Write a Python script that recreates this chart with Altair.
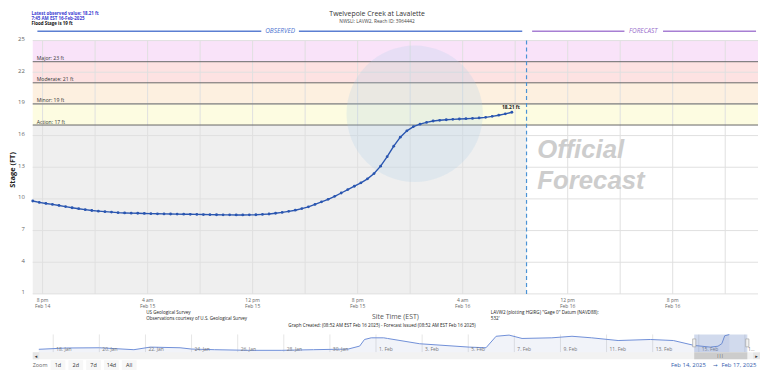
import altair as alt
import pandas as pd

# ---------------- values ----------------
obs_start = "2025-02-14 19:15"
obs_step = "30min"
obs_stage = [9.80, 9.67, 9.57, 9.48, 9.38, 9.27, 9.16, 9.07, 8.98, 8.90,
             8.84, 8.79, 8.75, 8.70, 8.67, 8.65, 8.64, 8.62, 8.60, 8.59,
             8.58, 8.57, 8.56, 8.55, 8.54, 8.53, 8.52, 8.51, 8.50, 8.49,
             8.49, 8.48, 8.48, 8.49, 8.50, 8.53, 8.57, 8.64, 8.72, 8.82,
             8.93, 9.08, 9.25, 9.48, 9.72, 9.96, 10.24, 10.56, 10.88, 11.20,
             11.52, 11.90, 12.40, 13.10, 14.00, 15.00, 15.85, 16.45, 16.85, 17.08,
             17.25, 17.38, 17.45, 17.50, 17.54, 17.57, 17.60, 17.63, 17.67, 17.73,
             17.82, 17.93, 18.06, 18.21]

view_start = "2025-02-14 19:15"
view_end = "2025-02-17 02:30"
forecast_issued = "2025-02-16 08:52"

cat_names = ["Action", "Minor", "Moderate", "Major"]
cat_stage = [17, 19, 21, 23]
cat_top = [19, 21, 23, 25]
cat_colors = ["#fdfce1", "#fdf0e0", "#fde2e2", "#f9e3f9"]

y_ticks = [1, 4, 7, 10, 13, 16, 19, 22, 25]
grid_start = "2025-02-14 20:00"
grid_end = "2025-02-17 00:00"
x_label_times = ["2025-02-14 20:00", "2025-02-15 04:00", "2025-02-15 12:00",
                 "2025-02-15 20:00", "2025-02-16 04:00", "2025-02-16 12:00",
                 "2025-02-16 20:00"]
x_labels_time = ["8 pm", "4 am", "12 pm", "8 pm", "4 am", "12 pm", "8 pm"]
x_labels_day = ["Feb 14", "Feb 15", "Feb 15", "Feb 15", "Feb 16", "Feb 16", "Feb 16"]

nav_times = ["2025-01-17 09:00", "2025-01-18 14:00", "2025-01-20 00:00", "2025-01-21 12:00",
             "2025-01-22 05:00", "2025-01-23 12:00", "2025-01-24 00:00", "2025-01-25 00:00",
             "2025-01-26 12:00", "2025-01-27 22:00", "2025-01-29 07:00", "2025-01-30 19:00",
             "2025-01-31 07:00", "2025-01-31 12:00", "2025-01-31 19:00", "2025-02-01 08:00",
             "2025-02-01 12:00", "2025-02-02 21:30", "2025-02-05 01:00", "2025-02-05 18:30",
             "2025-02-06 05:00", "2025-02-06 18:30", "2025-02-07 08:00", "2025-02-08 15:00",
             "2025-02-09 12:00", "2025-02-10 08:30", "2025-02-11 12:00", "2025-02-12 21:30",
             "2025-02-13 21:30", "2025-02-14 19:15", "2025-02-15 12:00", "2025-02-15 20:00",
             "2025-02-16 00:00", "2025-02-16 03:00", "2025-02-16 07:45"]
nav_stage = [6.8, 7.8, 8.0, 6.5, 8.5, 8.0, 7.0, 6.5, 6.0, 6.0, 6.5, 7.0,
             9.3, 14.4, 15.7, 15.7, 15.2, 11.1, 8.5, 8.0, 16.9, 17.8, 15.2, 15.7,
             16.9, 15.7, 13.6, 14.4, 13.6, 9.8, 8.5, 9.2, 11.2, 17.3, 18.21]
nav_start = "2025-01-17 02:40"
nav_end = "2025-02-17 08:30"
nav_label_dates = ["2025-01-18", "2025-01-20", "2025-01-22", "2025-01-24", "2025-01-26",
                   "2025-01-28", "2025-01-30", "2025-02-01", "2025-02-03", "2025-02-05",
                   "2025-02-07", "2025-02-09", "2025-02-11", "2025-02-13", "2025-02-15",
                   "2025-02-17"]
nav_labels = ["18. Jan", "20. Jan", "22. Jan", "24. Jan", "26. Jan", "28. Jan", "30. Jan",
              "1. Feb", "3. Feb", "5. Feb", "7. Feb", "9. Feb", "11. Feb", "13. Feb",
              "15. Feb", "17. Feb"]
zoom_buttons = ["1d", "2d", "7d", "14d", "All"]
range_labels = ["Feb 14, 2025", "Feb 17, 2025"]

title_text = "Twelvepole Creek at Lavalette"
subtitle_text = "NWSLI: LAVW2, Reach ID: 3964442"
info_lines = ["Latest observed value: 18.21 ft", "7:45 AM EST 16-Feb-2025", "Flood Stage is 19 ft"]
credit_lines = ["US Geological Survey", "Observations courtesy of U.S. Geological Survey"]
datum_lines = ["LAVW2 (plotting HGIRG) \"Gage 0\" Datum (NAVD88):", "532'"]
created_text = ("Graph Created: (08:52 AM EST Feb 16 2025) - "
                "Forecast Issued (08:52 AM EST Feb 16 2025)")
official_text = "Official\nForecast"

FONT = "Open Sans"


def iso(t):
    return pd.Timestamp(t).strftime("%Y-%m-%dT%H:%M:%S")


def dt(t):
    t = pd.Timestamp(t)
    return alt.DateTime(year=t.year, month=t.month, date=t.day, hours=t.hour, minutes=t.minute)


def label(text, x, y, **kw):
    return alt.Chart(alt.Data(values=[{"t": text}])).mark_text(**kw).encode(
        x=alt.value(x), y=alt.value(y), text="t:N")


def hline(x0, x1, y, **kw):
    return alt.Chart(alt.Data(values=[{}])).mark_rule(**kw).encode(
        x=alt.value(x0), x2=alt.value(x1), y=alt.value(y))


def box(x0, x1, y0, y1, **kw):
    return alt.Chart(alt.Data(values=[{}])).mark_rect(**kw).encode(
        x=alt.value(x0), x2=alt.value(x1), y=alt.value(y0), y2=alt.value(y1))


# ---------------- main panel ----------------
W, H = 733, 256
xs = alt.Scale(domain=[dt(view_start), dt(view_end)])
ys = alt.Scale(domain=[y_ticks[0], y_ticks[-1]], nice=False, zero=False)


def X(f):
    return alt.X(f, scale=xs, axis=None)


def Y(f):
    return alt.Y(f, scale=ys, axis=None)


obs_times = pd.date_range(obs_start, periods=len(obs_stage), freq=obs_step)
obs_df = pd.DataFrame({"time": [iso(t) for t in obs_times], "stage": obs_stage})
last_df = obs_df.tail(1).assign(label=f"{obs_stage[-1]:.2f} ft")

cat_df = pd.DataFrame({
    "name": cat_names, "low": cat_stage, "high": cat_top,
    "t0": iso(view_start), "t1": iso(view_end),
    "label": [f"{n}: {s} ft" for n, s in zip(cat_names, cat_stage)],
})
gray_df = pd.DataFrame({"t0": [iso(view_start)], "t1": [iso(forecast_issued)],
                        "s0": [y_ticks[0]], "s1": [cat_stage[0]]})
fc_df = pd.DataFrame({"t": [iso(forecast_issued)]})
vgrid_df = pd.DataFrame({"t": [iso(t) for t in pd.date_range(grid_start, grid_end, freq="4h")]})
ytick_df = pd.DataFrame({"v": y_ticks})
xlab_df = pd.DataFrame({"t": [iso(t) for t in x_label_times],
                        "l1": x_labels_time, "l2": x_labels_day})

gray = alt.Chart(gray_df).mark_rect(color="#efefef").encode(
    x=X("t0:T"), x2="t1:T", y=Y("s0:Q"), y2="s1:Q")

bands = alt.Chart(cat_df).mark_rect().encode(
    x=X("t0:T"), x2="t1:T", y=Y("low:Q"), y2="high:Q",
    color=alt.Color("name:N", scale=alt.Scale(domain=cat_names, range=cat_colors), legend=None))

vgrid = alt.Chart(vgrid_df).mark_rule(color="#e0e0e0", strokeWidth=1).encode(x=X("t:T"))
hgrid = alt.Chart(ytick_df).mark_rule(color="#e0e0e0", strokeWidth=1).encode(y=Y("v:Q"))

ylabels = alt.Chart(ytick_df).mark_text(
    align="right", baseline="middle", fontSize=6, color="#666666", dy=-1.5).encode(
    x=alt.value(-8), y=Y("v:Q"), text="v:Q")
xlabels1 = alt.Chart(xlab_df).mark_text(
    align="center", baseline="middle", fontSize=5, color="#666666").encode(
    x=X("t:T"), y=alt.value(H + 6.5), text="l1:N")
xlabels2 = alt.Chart(xlab_df).mark_text(
    align="center", baseline="middle", fontSize=5, color="#666666").encode(
    x=X("t:T"), y=alt.value(H + 12.3), text="l2:N")

logo = alt.Chart(alt.Data(values=[{}])).mark_circle(
    color="#a9cbe6", opacity=0.22, size=19000).encode(x=alt.value(386), y=alt.value(74))

rules = alt.Chart(cat_df).mark_rule(color="#666666", strokeWidth=1).encode(y=Y("low:Q"))

rule_labels = alt.Chart(cat_df).mark_text(
    align="left", baseline="bottom", dy=-0.5, fontSize=5.2, color="#333333").encode(
    x=alt.value(4), y=Y("low:Q"), text="label:N")

dashed = alt.Chart(fc_df).mark_rule(color="#4a93d6", strokeDash=[4, 3], strokeWidth=1.2).encode(
    x=X("t:T"))

obs_line = alt.Chart(obs_df).mark_line(
    color="#2a56b0", strokeWidth=1.4,
    point=alt.OverlayMarkDef(filled=True, size=8, color="#2a56b0")).encode(
    x=X("time:T"), y=Y("stage:Q"))

last_label = alt.Chart(last_df).mark_text(
    fontSize=5, fontWeight="bold", color="#222222", dy=-5, dx=-1).encode(
    x=X("time:T"), y=Y("stage:Q"), text="label:N")

official = label(official_text, 510, 97.5, align="left", baseline="top", fontSize=26,
                 font="Liberation Sans", fontWeight="bold", fontStyle="italic",
                 color="#cdcdcd", lineBreak="\n", lineHeight=31.5)

header_y = -9.5
headers = [
    hline(4.7, 231, header_y, color="#5b7fd2", strokeWidth=1.4),
    hline(269, 494.7, header_y, color="#5b7fd2", strokeWidth=1.4),
    label("OBSERVED", 250, header_y, fontSize=6.5, fontStyle="italic", color="#4d74d0",
          baseline="middle"),
    hline(504.7, 598, header_y, color="#a77fd3", strokeWidth=1.4),
    hline(637, 731, header_y, color="#a77fd3", strokeWidth=1.4),
    label("FORECAST", 617, header_y, fontSize=6.5, fontStyle="italic", color="#9a6fcc",
          baseline="middle"),
]

top_texts = [
    label(title_text, 348, -26.5, fontSize=7, color="#333333", baseline="middle"),
    label(subtitle_text, 348, -18.5, fontSize=4.8, color="#444444", baseline="middle"),
    label(info_lines[0], -1.3, -27, fontSize=4.5, fontWeight="bold", color="#3b3bd1",
          align="left", baseline="middle"),
    label(info_lines[1], -1.3, -21.8, fontSize=4.5, fontWeight="bold", color="#3b3bd1",
          align="left", baseline="middle"),
    label(info_lines[2], -1.3, -16.5, fontSize=4.5, fontWeight="bold", color="#111111",
          align="left", baseline="middle"),
]

stage_title = label("Stage (FT)", -19.5, 130.7, angle=270, fontSize=7.5, fontWeight="bold",
                    color="#222222", baseline="middle")

bottom_texts = [
    label("Site Time (EST)", 366.5, 279, fontSize=7, color="#555555", baseline="middle"),
    label(credit_lines[0], 114.7, 275.2, fontSize=4.6, color="#222222", align="left",
          baseline="middle"),
    label(credit_lines[1], 114.7, 281.6, fontSize=4.6, color="#222222", align="left",
          baseline="middle"),
    label(created_text, 353, 288.7, fontSize=4.6, color="#222222", baseline="middle"),
    label(datum_lines[0], 463, 275.3, fontSize=4.6, color="#222222", align="left",
          baseline="middle"),
    label(datum_lines[1], 463, 281.6, fontSize=4.6, color="#222222", align="left",
          baseline="middle"),
]

main = alt.layer(
    gray, bands, vgrid, hgrid, rules, rule_labels, logo, dashed, obs_line, last_label,
    official, *headers, *top_texts, stage_title, ylabels, xlabels1, xlabels2, *bottom_texts,
).properties(width=W, height=H)

# ---------------- navigator panel ----------------
NW, NH = 728, 18
nxs = alt.Scale(domain=[dt(nav_start), dt(nav_end)])
nys = alt.Scale(domain=[4.5, 18.3], nice=False, zero=False)


def NX(f):
    return alt.X(f, scale=nxs, axis=None)


nav_df = pd.DataFrame({"time": [iso(t) for t in nav_times], "stage": nav_stage})
nav_lab_df = pd.DataFrame({"time": [iso(t) for t in nav_label_dates], "label": nav_labels})
sel_df = pd.DataFrame({"t0": [iso(view_start)], "t1": [iso(view_end)]})
edge_df = pd.DataFrame({"t": [iso(view_start), iso(view_end)]})

nav_grid = alt.Chart(nav_lab_df).mark_rule(color="#e6e6e6").encode(x=NX("time:T"))
nav_sel = alt.Chart(sel_df).mark_rect(color="#6685c2", opacity=0.3).encode(
    x=NX("t0:T"), x2="t1:T", y=alt.value(0), y2=alt.value(NH))
nav_area = alt.Chart(nav_df).mark_area(color="#335cad", opacity=0.07).encode(
    x=NX("time:T"), y=alt.Y("stage:Q", scale=nys, axis=None), y2=alt.value(NH))
nav_line = alt.Chart(nav_df).mark_line(color="#6f8fd8", strokeWidth=1).encode(
    x=NX("time:T"), y=alt.Y("stage:Q", scale=nys, axis=None))
nav_text = alt.Chart(nav_lab_df.iloc[:-1]).mark_text(
    align="left", dx=3, fontSize=5, color="#777777", baseline="middle").encode(
    x=NX("time:T"), y=alt.value(15), text="label:N")
nav_text_last = alt.Chart(nav_lab_df.iloc[-1:]).mark_text(
    align="left", dx=3, fontSize=5, color="#777777", baseline="middle", limit=7).encode(
    x=NX("time:T"), y=alt.value(15), text="label:N")
nav_handles = alt.Chart(edge_df).mark_point(
    shape="M-0.4,-1H0.4V1H-0.4Z", size=64, filled=True, fill="#f2f2f2",
    stroke="#999999", strokeWidth=0.6, opacity=1).encode(
    x=NX("t:T"), y=alt.value(8.5))

track = box(0, NW, NH, NH + 7, color="#f2f2f2")
thumb = alt.Chart(sel_df).mark_rect(color="#cccccc").encode(
    x=NX("t0:T"), x2="t1:T", y=alt.value(NH), y2=alt.value(NH + 7))
grip = label("|||", 694.7, NH + 3.6, fontSize=4, color="#333333", baseline="middle")
lbtn = box(0, 6.6, NH, NH + 7, color="#e6e6e6")
rbtn = box(NW, NW + 7, NH, NH + 7, color="#e6e6e6")
larr = label("◂", 3.3, NH + 3.6, fontSize=5, color="#333333", baseline="middle",
             font="DejaVu Sans")
rarr = label("▸", NW + 3.5, NH + 3.6, fontSize=5, color="#333333", baseline="middle",
             font="DejaVu Sans")

zoom_items = [label("Zoom", 0, 31, fontSize=5.5, color="#666666", align="left",
                    baseline="middle")]
for i, b in enumerate(zoom_buttons):
    x0 = 18 + 18 * i
    zoom_items.append(box(x0, x0 + 15, 26, 36, color="#f7f7f7"))
    zoom_items.append(label(b, x0 + 7.5, 31, fontSize=5.5, color="#333333", baseline="middle"))

range_items = [
    label(range_labels[0], 645, 31, fontSize=6, color="#335cad", align="left", baseline="middle"),
    label("→", 689.7, 31, fontSize=5.5, color="#335cad", baseline="middle", font="DejaVu Sans"),
    label(range_labels[1], 696, 31, fontSize=6, color="#335cad", align="left", baseline="middle"),
]

nav = alt.layer(
    nav_grid, nav_area, nav_line, nav_text, nav_text_last, nav_sel, nav_handles,
    track, thumb, grip, lbtn, rbtn, larr, rarr, *zoom_items, *range_items,
).properties(width=NW, height=NH)

chart = alt.vconcat(
    main, nav, spacing=41, bounds="flush",
    padding={"left": 1, "top": 0, "right": 0, "bottom": 0},
).configure(font=FONT).configure_view(strokeWidth=0)

chart.save("out.html", embed_options={"renderer": "svg", "actions": False})
